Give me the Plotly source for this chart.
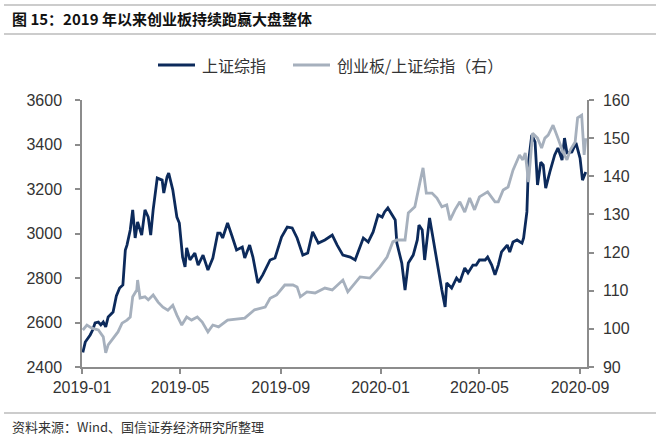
import plotly.graph_objects as go

# 上证综指 (left axis)
sh_dates = [
    "2019-01-02", "2019-01-05", "2019-01-11", "2019-01-14", "2019-01-17", "2019-01-21",
    "2019-01-24", "2019-01-27", "2019-01-30", "2019-02-02", "2019-02-08", "2019-02-12",
    "2019-02-16", "2019-02-20", "2019-02-23", "2019-02-25", "2019-03-01", "2019-03-04",
    "2019-03-07", "2019-03-10", "2019-03-15", "2019-03-19", "2019-03-23", "2019-03-26",
    "2019-03-29", "2019-04-03", "2019-04-09", "2019-04-11", "2019-04-15", "2019-04-17",
    "2019-04-22", "2019-04-27", "2019-04-30", "2019-05-04", "2019-05-07", "2019-05-09",
    "2019-05-13", "2019-05-19", "2019-05-23", "2019-05-29", "2019-06-04", "2019-06-10",
    "2019-06-16", "2019-06-19", "2019-06-22", "2019-06-28", "2019-07-03", "2019-07-09",
    "2019-07-16", "2019-07-19", "2019-07-25", "2019-07-29", "2019-08-04", "2019-08-10",
    "2019-08-19", "2019-08-25", "2019-09-02", "2019-09-09", "2019-09-15", "2019-09-21",
    "2019-09-28", "2019-10-04", "2019-10-10", "2019-10-17", "2019-10-25", "2019-11-03",
    "2019-11-09", "2019-11-16", "2019-11-25", "2019-12-01", "2019-12-11", "2019-12-17",
    "2019-12-23", "2019-12-29", "2020-01-03", "2020-01-06", "2020-01-10", "2020-01-15",
    "2020-01-19", "2020-01-21", "2020-01-27", "2020-01-31", "2020-02-04", "2020-02-10",
    "2020-02-15", "2020-02-17", "2020-02-21", "2020-02-24", "2020-02-27", "2020-03-01",
    "2020-03-05", "2020-03-11", "2020-03-16", "2020-03-20", "2020-03-22", "2020-03-28",
    "2020-04-03", "2020-04-07", "2020-04-13", "2020-04-17", "2020-04-23", "2020-04-27",
    "2020-05-01", "2020-05-08", "2020-05-11", "2020-05-16", "2020-05-20", "2020-05-24",
    "2020-05-28", "2020-06-04", "2020-06-07", "2020-06-11", "2020-06-16", "2020-06-22",
    "2020-06-24", "2020-06-28", "2020-06-30", "2020-07-04", "2020-07-08", "2020-07-11",
    "2020-07-15", "2020-07-18", "2020-07-21", "2020-07-26", "2020-08-01", "2020-08-05",
    "2020-08-10", "2020-08-13", "2020-08-16", "2020-08-22", "2020-08-27", "2020-09-01",
    "2020-09-04", "2020-09-08",
]
sh_values = [
    2465, 2512, 2544, 2566, 2598, 2602,
    2589, 2602, 2580, 2625, 2647, 2719,
    2755, 2769, 2926, 2948, 3016, 3106,
    2980, 3052, 2993, 3106, 3074, 2993,
    3106, 3249, 3240, 3182, 3254, 3272,
    3196, 3074, 3047, 2894, 2850, 2935,
    2881, 2912, 2858, 2903, 2836, 2890,
    3002, 3002, 2980, 3047, 2993, 2926,
    2939, 2890, 2948, 2894, 2778, 2814,
    2881, 2890, 2984, 3029, 3025, 2980,
    2903, 2912, 3007, 2957, 2971, 2993,
    2948, 2903, 2894, 2881, 2980, 2962,
    3007, 3083, 3074, 3097, 3115, 3083,
    3061, 2957, 2867, 2746, 2867, 2903,
    2971, 3038, 3016, 2881, 2984, 3070,
    2984, 2850, 2746, 2670, 2778, 2755,
    2800, 2782, 2845, 2823, 2858, 2858,
    2881, 2881, 2894, 2858, 2814, 2858,
    2917, 2948, 2917, 2962, 2971, 2957,
    2980, 3097, 3321, 3443, 3411, 3218,
    3321, 3308, 3204, 3276, 3353, 3384,
    3330, 3429, 3362, 3366, 3407, 3339,
    3240, 3276,
]

# 创业板/上证综指 (right axis)
ratio_dates = [
    "2019-01-02", "2019-01-07", "2019-01-13", "2019-01-21", "2019-01-27", "2019-01-30",
    "2019-02-02", "2019-02-08", "2019-02-14", "2019-02-19", "2019-02-25", "2019-03-01",
    "2019-03-04", "2019-03-09", "2019-03-10", "2019-03-13", "2019-03-19", "2019-03-23",
    "2019-03-29", "2019-04-04", "2019-04-10", "2019-04-16", "2019-04-22", "2019-04-27",
    "2019-05-03", "2019-05-09", "2019-05-15", "2019-05-22", "2019-05-28", "2019-06-04",
    "2019-06-10", "2019-06-17", "2019-06-28", "2019-07-19", "2019-07-31", "2019-08-13",
    "2019-08-19", "2019-08-27", "2019-09-06", "2019-09-16", "2019-09-21", "2019-09-25",
    "2019-10-03", "2019-10-13", "2019-10-25", "2019-11-03", "2019-11-16", "2019-11-22",
    "2019-12-01", "2019-12-07", "2019-12-19", "2019-12-31", "2020-01-09", "2020-01-16",
    "2020-01-21", "2020-01-31", "2020-02-04", "2020-02-12", "2020-02-18", "2020-02-22",
    "2020-02-26", "2020-03-04", "2020-03-10", "2020-03-16", "2020-03-22", "2020-03-26",
    "2020-04-01", "2020-04-07", "2020-04-13", "2020-04-19", "2020-04-25", "2020-05-01",
    "2020-05-11", "2020-05-20", "2020-05-24", "2020-05-30", "2020-06-05", "2020-06-11",
    "2020-06-19", "2020-06-23", "2020-06-26", "2020-06-30", "2020-07-05", "2020-07-11",
    "2020-07-16", "2020-07-20", "2020-07-24", "2020-07-30", "2020-08-05", "2020-08-11",
    "2020-08-16", "2020-08-20", "2020-08-26", "2020-08-29", "2020-09-03", "2020-09-06",
    "2020-09-08",
]
ratio_values = [
    99.7, 101.0, 100.2, 99.7, 97.9, 93.7,
    95.8, 97.6, 99.2, 101.5, 102.3, 103.1,
    108.4, 110.2, 112.8, 108.1, 108.4, 107.6,
    108.9, 107.0, 105.7, 104.9, 106.2, 103.6,
    101.0, 103.1, 102.3, 103.1, 101.8, 99.2,
    101.0, 100.5, 102.3, 102.8, 105.0, 105.7,
    108.0, 108.9, 111.5, 111.5, 111.0, 108.4,
    109.7, 109.4, 110.7, 110.2, 112.8, 109.7,
    112.0, 113.6, 113.3, 116.2, 118.8, 122.8,
    123.3, 123.3, 130.4, 132.0, 138.2, 142.2,
    135.6, 135.6, 134.3, 132.0, 132.5, 128.5,
    131.2, 133.3, 130.6, 134.3, 131.2, 134.6,
    135.9, 133.3, 133.3, 136.4, 137.2, 141.6,
    145.6, 144.3, 146.1, 138.5, 151.3, 150.0,
    147.4, 150.0, 150.8, 153.4, 150.0, 146.4,
    144.3, 146.9, 149.0, 155.3, 156.0, 145.6,
    150.0,
]

x_ticks = ["2019-01-01", "2019-05-01", "2019-09-01", "2020-01-01", "2020-05-01", "2020-09-01"]
x_tick_text = ["2019-01", "2019-05", "2019-09", "2020-01", "2020-05", "2020-09"]

series_names = ["上证综指", "创业板/上证综指（右）"]
title_text = "图 15：2019 年以来创业板持续跑赢大盘整体"
source_text = "资料来源：Wind、国信证券经济研究所整理"

NAVY = "#0c2a5b"
GREY = "#a6b0bd"
AXIS = "#8c8c8c"
TXT = "#333333"
FONT = "Liberation Sans, Arial, Noto Sans CJK SC, sans-serif"
CJK = "Noto Sans CJK SC, Liberation Sans, sans-serif"

# plot area in pixels
L, R, T, B = 82, 587, 100, 367
PW, PH = R - L, B - T


def px(xp):
    return (xp - L) / PW


def py(yp):
    return (B - yp) / PH


fig = go.Figure()
fig.add_trace(go.Scatter(
    x=sh_dates, y=sh_values, name=series_names[0], mode="lines",
    line=dict(color=NAVY, width=2.8), yaxis="y", showlegend=False,
))
fig.add_trace(go.Scatter(
    x=ratio_dates, y=ratio_values, name=series_names[1], mode="lines",
    line=dict(color=GREY, width=2.8), yaxis="y2", showlegend=False,
))

fig.update_layout(
    width=660, height=436,
    margin=dict(l=L, r=660 - R, t=T, b=436 - B),
    paper_bgcolor="white", plot_bgcolor="white",
    font=dict(family=FONT, size=16, color=TXT),
    showlegend=False,
    xaxis=dict(
        type="date", range=["2019-01-01", "2020-09-09 12:00"],
        tickvals=x_ticks, ticktext=x_tick_text,
        showgrid=False, zeroline=False,
        showline=True, linecolor=AXIS, linewidth=1.5,
        ticks="outside", ticklen=5, tickcolor=AXIS, tickwidth=1.5,
        tickfont=dict(family=FONT, size=16, color=TXT),
    ),
    yaxis=dict(
        range=[2400, 3600], dtick=200, tick0=2400,
        showgrid=False, zeroline=False,
        showline=True, linecolor=AXIS, linewidth=1.5,
        ticks="outside", ticklen=5, tickcolor=AXIS, tickwidth=1.5,
        tickfont=dict(family=FONT, size=16, color=TXT),
        ticklabelstandoff=10,
    ),
    yaxis2=dict(
        range=[90, 160], dtick=10, tick0=90, overlaying="y", side="right",
        showgrid=False, zeroline=False,
        showline=True, linecolor=AXIS, linewidth=1.5,
        ticks="outside", ticklen=5, tickcolor=AXIS, tickwidth=1.5,
        tickfont=dict(family=FONT, size=16, color=TXT),
        ticklabelstandoff=6,
    ),
)

# Manual legend
legend_items = [(158, 195, 200, NAVY, series_names[0]), (293, 330, 335, GREY, series_names[1])]
for x0, x1, tx, col, name in legend_items:
    fig.add_shape(type="line", xref="paper", yref="paper",
                  x0=px(x0), x1=px(x1), y0=py(65), y1=py(65),
                  line=dict(color=col, width=3))
    fig.add_annotation(text=name, xref="paper", yref="paper",
                       x=px(tx), y=py(65), xanchor="left", yanchor="middle",
                       showarrow=False, font=dict(family=CJK, size=16, color=TXT))

# Title and rules
fig.add_annotation(
    text="<b>" + title_text + "</b>", xref="paper", yref="paper",
    x=px(10), y=py(19), xanchor="left", yanchor="middle",
    showarrow=False, font=dict(family=CJK, size=15, color="#111111"),
)
fig.add_annotation(
    text=source_text, xref="paper", yref="paper",
    x=px(10), y=py(426), xanchor="left", yanchor="middle",
    showarrow=False, font=dict(family=CJK, size=13, color=TXT),
)
for ypix in (5, 34, 413):
    fig.add_shape(
        type="line", xref="paper", yref="paper",
        x0=px(4), x1=px(656), y0=py(ypix), y1=py(ypix),
        line=dict(color="#9a9a9a", width=1.2),
    )

fig.write_html("out.html")
